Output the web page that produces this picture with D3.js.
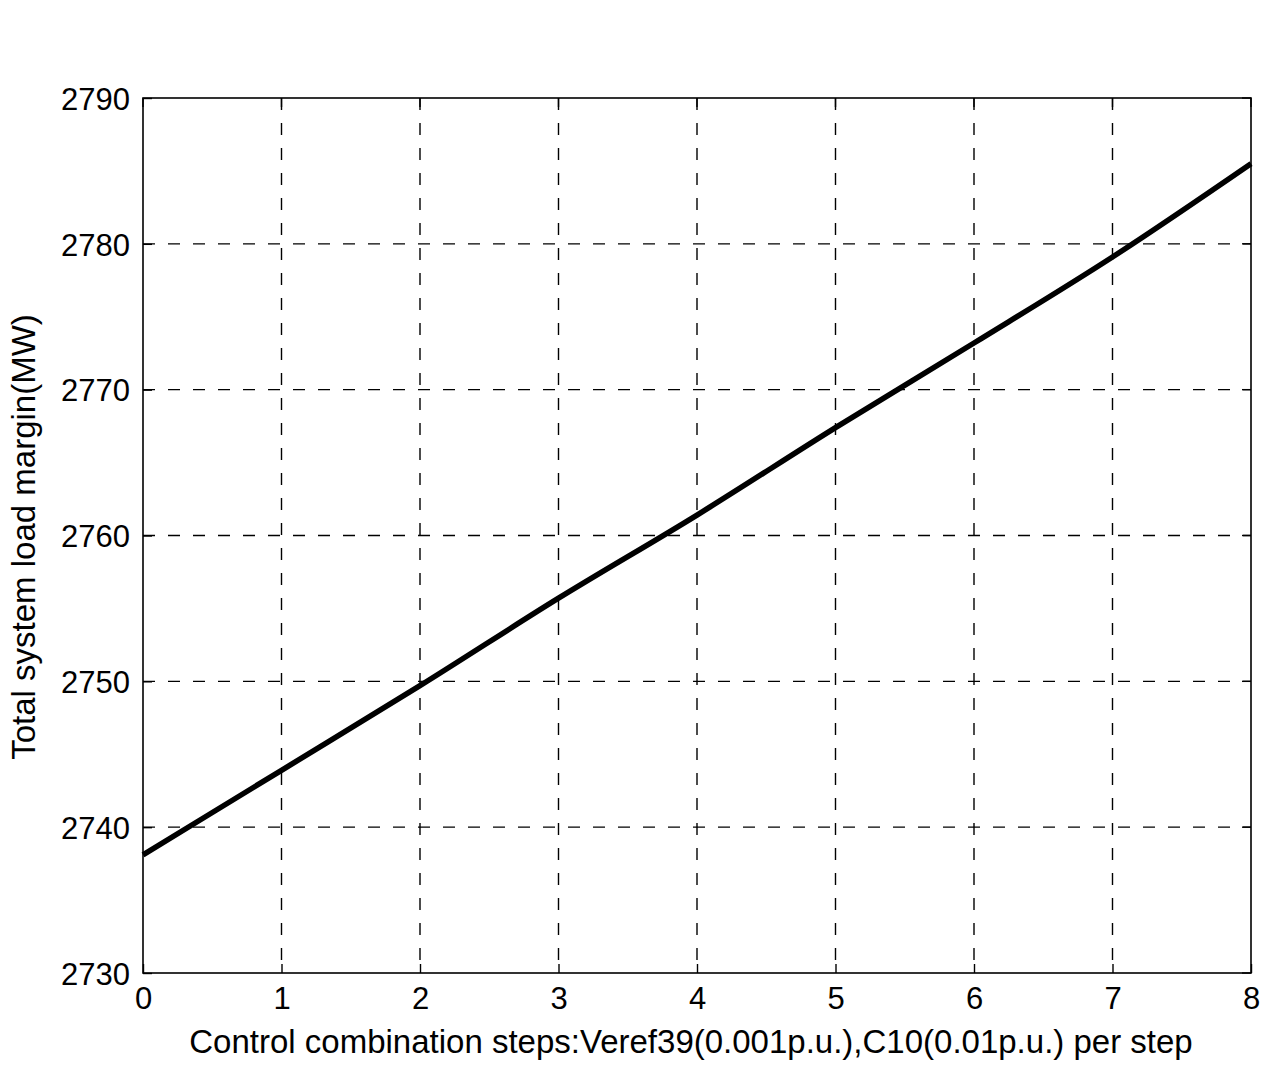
<!DOCTYPE html>
<html>
<head>
<meta charset="utf-8">
<script src="https://cdn.jsdelivr.net/npm/d3@7"></script>
<style>
html,body{margin:0;padding:0;background:#fff;}
svg{display:block;}
text{font-family:"Liberation Sans",Arial,sans-serif;fill:#000;}
</style>
</head>
<body>
<svg id="chart" width="1285" height="1068"></svg>
<script>
const steps = [0, 1, 2, 3, 4, 5, 6, 7, 8];
const loadMargin = [2738.1, 2743.9, 2749.7, 2755.7, 2761.4, 2767.4, 2773.2, 2779.1, 2785.5];
const xTicks = [0, 1, 2, 3, 4, 5, 6, 7, 8];
const yTicks = [2730, 2740, 2750, 2760, 2770, 2780, 2790];
const xLabel = "Control combination steps:Veref39(0.001p.u.),C10(0.01p.u.) per step";
const yLabel = "Total system load margin(MW)";

const svg = d3.select("#chart");
const m = {left: 143, right: 1251, top: 98, bottom: 973};
const x = d3.scaleLinear().domain([0, 8]).range([m.left, m.right]);
const y = d3.scaleLinear().domain([2730, 2790]).range([m.bottom, m.top]);

// grid
const grid = svg.append("g").attr("stroke", "#000").attr("stroke-width", 1.4).attr("stroke-dasharray", "12,13");
grid.selectAll("line.v").data(xTicks.slice(1, -1)).join("line")
  .attr("x1", d => x(d)).attr("x2", d => x(d)).attr("y1", m.top).attr("y2", m.bottom);
grid.selectAll("line.h").data(yTicks.slice(1, -1)).join("line")
  .attr("y1", d => y(d)).attr("y2", d => y(d)).attr("x1", m.left).attr("x2", m.right);

// box
svg.append("rect").attr("x", m.left).attr("y", m.top).attr("width", m.right - m.left).attr("height", m.bottom - m.top)
  .attr("fill", "none").attr("stroke", "#000").attr("stroke-width", 1.6);

// axes
const xAxis = d3.axisBottom(x).tickValues(xTicks).tickSizeInner(-9).tickSizeOuter(0).tickPadding(18).tickFormat(d3.format("d"));
const gx = svg.append("g").attr("transform", `translate(0,${m.bottom})`).call(xAxis);
const yAxis = d3.axisLeft(y).tickValues(yTicks).tickSizeInner(-9).tickSizeOuter(0).tickPadding(13).tickFormat(d3.format("d"));
const gy = svg.append("g").attr("transform", `translate(${m.left},0)`).call(yAxis);
[gx, gy].forEach(g => {
  g.select(".domain").remove();
  g.selectAll(".tick line").attr("stroke", "#000").attr("stroke-width", 1.4);
  g.selectAll("text").attr("font-size", 31).attr("font-family", "Liberation Sans, Arial, sans-serif").attr("fill", "#000");
});
gy.selectAll("text").attr("dy", "0.36em");
gx.selectAll("text").attr("dy", "0.58em");
// top/right ticks
svg.append("g").selectAll("line").data(xTicks).join("line")
  .attr("x1", d => x(d)).attr("x2", d => x(d)).attr("y1", m.top).attr("y2", m.top + 9)
  .attr("stroke", "#000").attr("stroke-width", 1.4);
svg.append("g").selectAll("line").data(yTicks).join("line")
  .attr("y1", d => y(d)).attr("y2", d => y(d)).attr("x1", m.right).attr("x2", m.right - 9)
  .attr("stroke", "#000").attr("stroke-width", 1.4);

// line
const line = d3.line().x((d, i) => x(steps[i])).y(d => y(d)).curve(d3.curveMonotoneX);
svg.append("path").datum(loadMargin).attr("d", line)
  .attr("fill", "none").attr("stroke", "#000").attr("stroke-width", 5.5).attr("stroke-linejoin", "round");

// labels
svg.append("text").attr("x", 691).attr("y", 1053)
  .attr("text-anchor", "middle").attr("font-size", 33).text(xLabel);
svg.append("text").attr("transform", `translate(35,537) rotate(-90)`)
  .attr("text-anchor", "middle").attr("font-size", 33).text(yLabel);
</script>
</body>
</html>
